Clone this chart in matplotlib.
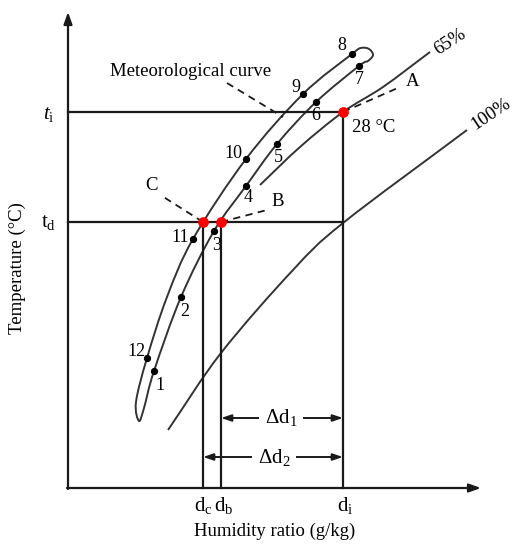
import numpy as np
import matplotlib
matplotlib.use("Agg")
import matplotlib.pyplot as plt
from matplotlib.path import Path
from matplotlib.patches import PathPatch

plt.rcParams['font.family'] = ['Liberation Serif', 'DejaVu Serif']
plt.rcParams['mathtext.fontset'] = 'custom'
plt.rcParams['mathtext.rm'] = 'Liberation Serif'
plt.rcParams['mathtext.it'] = 'Liberation Serif:italic'

# monthly points on the meteorological curve (humidity ratio, temperature), chart units
month_labels = ['1', '2', '3', '4', '5', '6', '7', '8', '9', '10', '11', '12']
month_d = [154, 181, 214, 246, 277, 316, 359, 352, 303, 246, 193, 147]
month_t = [179, 253, 319, 364, 406, 448, 484, 496, 456, 391, 311, 192]

# full closed loop outline (months plus turning points)
loop_d = [154, 181, 214, 246, 277, 316, 359, 368, 373, 369, 361, 352,
          303, 246, 193, 167, 147, 136, 139, 144]
loop_t = [179, 253, 319, 364, 406, 448, 484, 489, 495, 501, 502, 496,
          456, 391, 311, 253, 192, 148, 129, 142]

# relative humidity curves
rh65_d = [260, 300, 343, 383, 430]
rh65_t = [365, 403, 438, 463, 498]
rh100_d = [168, 221, 293, 343, 467]
rh100_t = [120, 197, 280, 327, 420]

# state points A (indoor), B, C and the two temperature levels
t_i, t_d = 438, 328
d_i, d_b, d_c = 343, 221, 203
x0, y0 = 68, 62

ink = '#1a1a1a'


def smooth_path(xs, ys, closed=False):
    p = np.column_stack([xs, ys]).astype(float)
    if closed:
        pts = np.vstack([p[-1], p, p[0], p[1]])
    else:
        pts = np.vstack([2 * p[0] - p[1], p, 2 * p[-1] - p[-2]])
    verts = [pts[1]]
    codes = [Path.MOVETO]
    for i in range(1, len(pts) - 2):
        c1 = pts[i] + (pts[i + 1] - pts[i - 1]) / 6
        c2 = pts[i + 1] - (pts[i + 2] - pts[i]) / 6
        verts += [c1, c2, pts[i + 1]]
        codes += [Path.CURVE4] * 3
    return Path(verts, codes)


fig = plt.figure(figsize=(5.18, 5.5), dpi=100)
ax = fig.add_axes([0, 0, 1, 1])
ax.set_xlim(0, 518)
ax.set_ylim(0, 550)
ax.axis('off')

# axes with arrows
ax.annotate('', xy=(x0, 538), xytext=(x0, y0 - 1),
            arrowprops=dict(arrowstyle='-|>,head_length=0.7,head_width=0.25',
                            color=ink, lw=1.6, shrinkA=0, shrinkB=0))
ax.annotate('', xy=(481, y0), xytext=(x0 - 1, y0),
            arrowprops=dict(arrowstyle='-|>,head_length=0.7,head_width=0.25',
                            color=ink, lw=1.6, shrinkA=0, shrinkB=0))

# construction lines
ax.plot([x0, d_i], [t_i, t_i], color=ink, lw=1.6)
ax.plot([x0, d_i], [t_d, t_d], color=ink, lw=1.6)
ax.plot([d_i, d_i], [y0, t_i], color=ink, lw=1.6)
ax.plot([d_c, d_c], [y0, t_d], color=ink, lw=1.6)
ax.plot([d_b, d_b], [y0, t_d], color=ink, lw=1.6)

# curves
ax.add_patch(PathPatch(smooth_path(loop_d, loop_t, closed=True),
                       fill=False, edgecolor='#333333', lw=1.4))
ax.add_patch(PathPatch(smooth_path(rh65_d, rh65_t),
                       fill=False, edgecolor='#333333', lw=1.4))
ax.add_patch(PathPatch(smooth_path(rh100_d, rh100_t),
                       fill=False, edgecolor='#333333', lw=1.4))

# month markers and labels
ax.scatter(month_d, month_t, s=18, color='black', zorder=5)
label_off = [(6, -14), (4, -14), (3, -15), (2, -12), (1, -13), (0, -13),
             (0, -14), (-10, 8), (-7, 6), (-13, 5), (-13, 1), (-11, 7)]
fs = 13.5
for lab, dx_, ty, (ox, oy) in zip(month_labels, month_d, month_t, label_off):
    ax.text(dx_ + ox, ty + oy, lab, fontsize=13, ha='center', va='center')

# red state points
ax.scatter([d_i, d_b, d_c], [t_i, t_d, t_d], s=45, color='red', zorder=6)

# dashed leaders
dash = dict(color=ink, lw=1.3, ls=(0, (4, 3)))
ax.plot([227, 283], [467, 433], **dash)
ax.plot([d_i, 400], [t_i, 463], **dash)
ax.plot([d_b, 267], [t_d, 340], **dash)
ax.plot([d_c, 162], [t_d, 354], **dash)

ax.text(110, 478, 'Meteorological curve', fontsize=fs, ha='left', va='center')
ax.text(413, 468, 'A', fontsize=fs, ha='center', va='center')
ax.text(278, 349, 'B', fontsize=fs, ha='center', va='center')
ax.text(152, 365, 'C', fontsize=fs, ha='center', va='center')
ax.text(352, 423, '28 °C', fontsize=fs, ha='left', va='center')
ax.text(450, 508, '65%', fontsize=fs, ha='center', va='center', rotation=33)
ax.text(491, 436, '100%', fontsize=fs, ha='center', va='center', rotation=34)

# axis tick labels
ax.text(49, 435, r'$t_{\mathrm{i}}$', fontsize=15, ha='center', va='center')
ax.text(49, 328, r'$\mathrm{t_d}$', fontsize=15, ha='center', va='center')
ax.text(d_c, 45, r'$\mathrm{d_c}$', fontsize=15, ha='center', va='center')
ax.text(d_b + 3, 45, r'$\mathrm{d_b}$', fontsize=15, ha='center', va='center')
ax.text(d_i + 2, 45, r'$\mathrm{d_i}$', fontsize=15, ha='center', va='center')
ax.text(275, 19, 'Humidity ratio (g/kg)', fontsize=fs, ha='center', va='center')
ax.text(17, 282, 'Temperature (°C)', fontsize=fs, ha='center', va='center',
        rotation=90)

# delta d dimension arrows
arr = dict(arrowstyle='<|-|>,head_length=0.6,head_width=0.2', color=ink,
           lw=1.4, shrinkA=0, shrinkB=0)
ax.annotate('', xy=(d_b, 132), xytext=(d_i, 132), arrowprops=arr)
ax.annotate('', xy=(d_c, 93), xytext=(d_i, 93), arrowprops=arr)
box = dict(facecolor='white', edgecolor='none', pad=4)
ax.text(281, 132, r'$\Delta\mathrm{d}_1$', fontsize=15, ha='center',
        va='center', bbox=box)
ax.text(274, 93, r'$\Delta\mathrm{d}_2$', fontsize=15, ha='center',
        va='center', bbox=box)

fig.savefig('out.png', dpi=100)
